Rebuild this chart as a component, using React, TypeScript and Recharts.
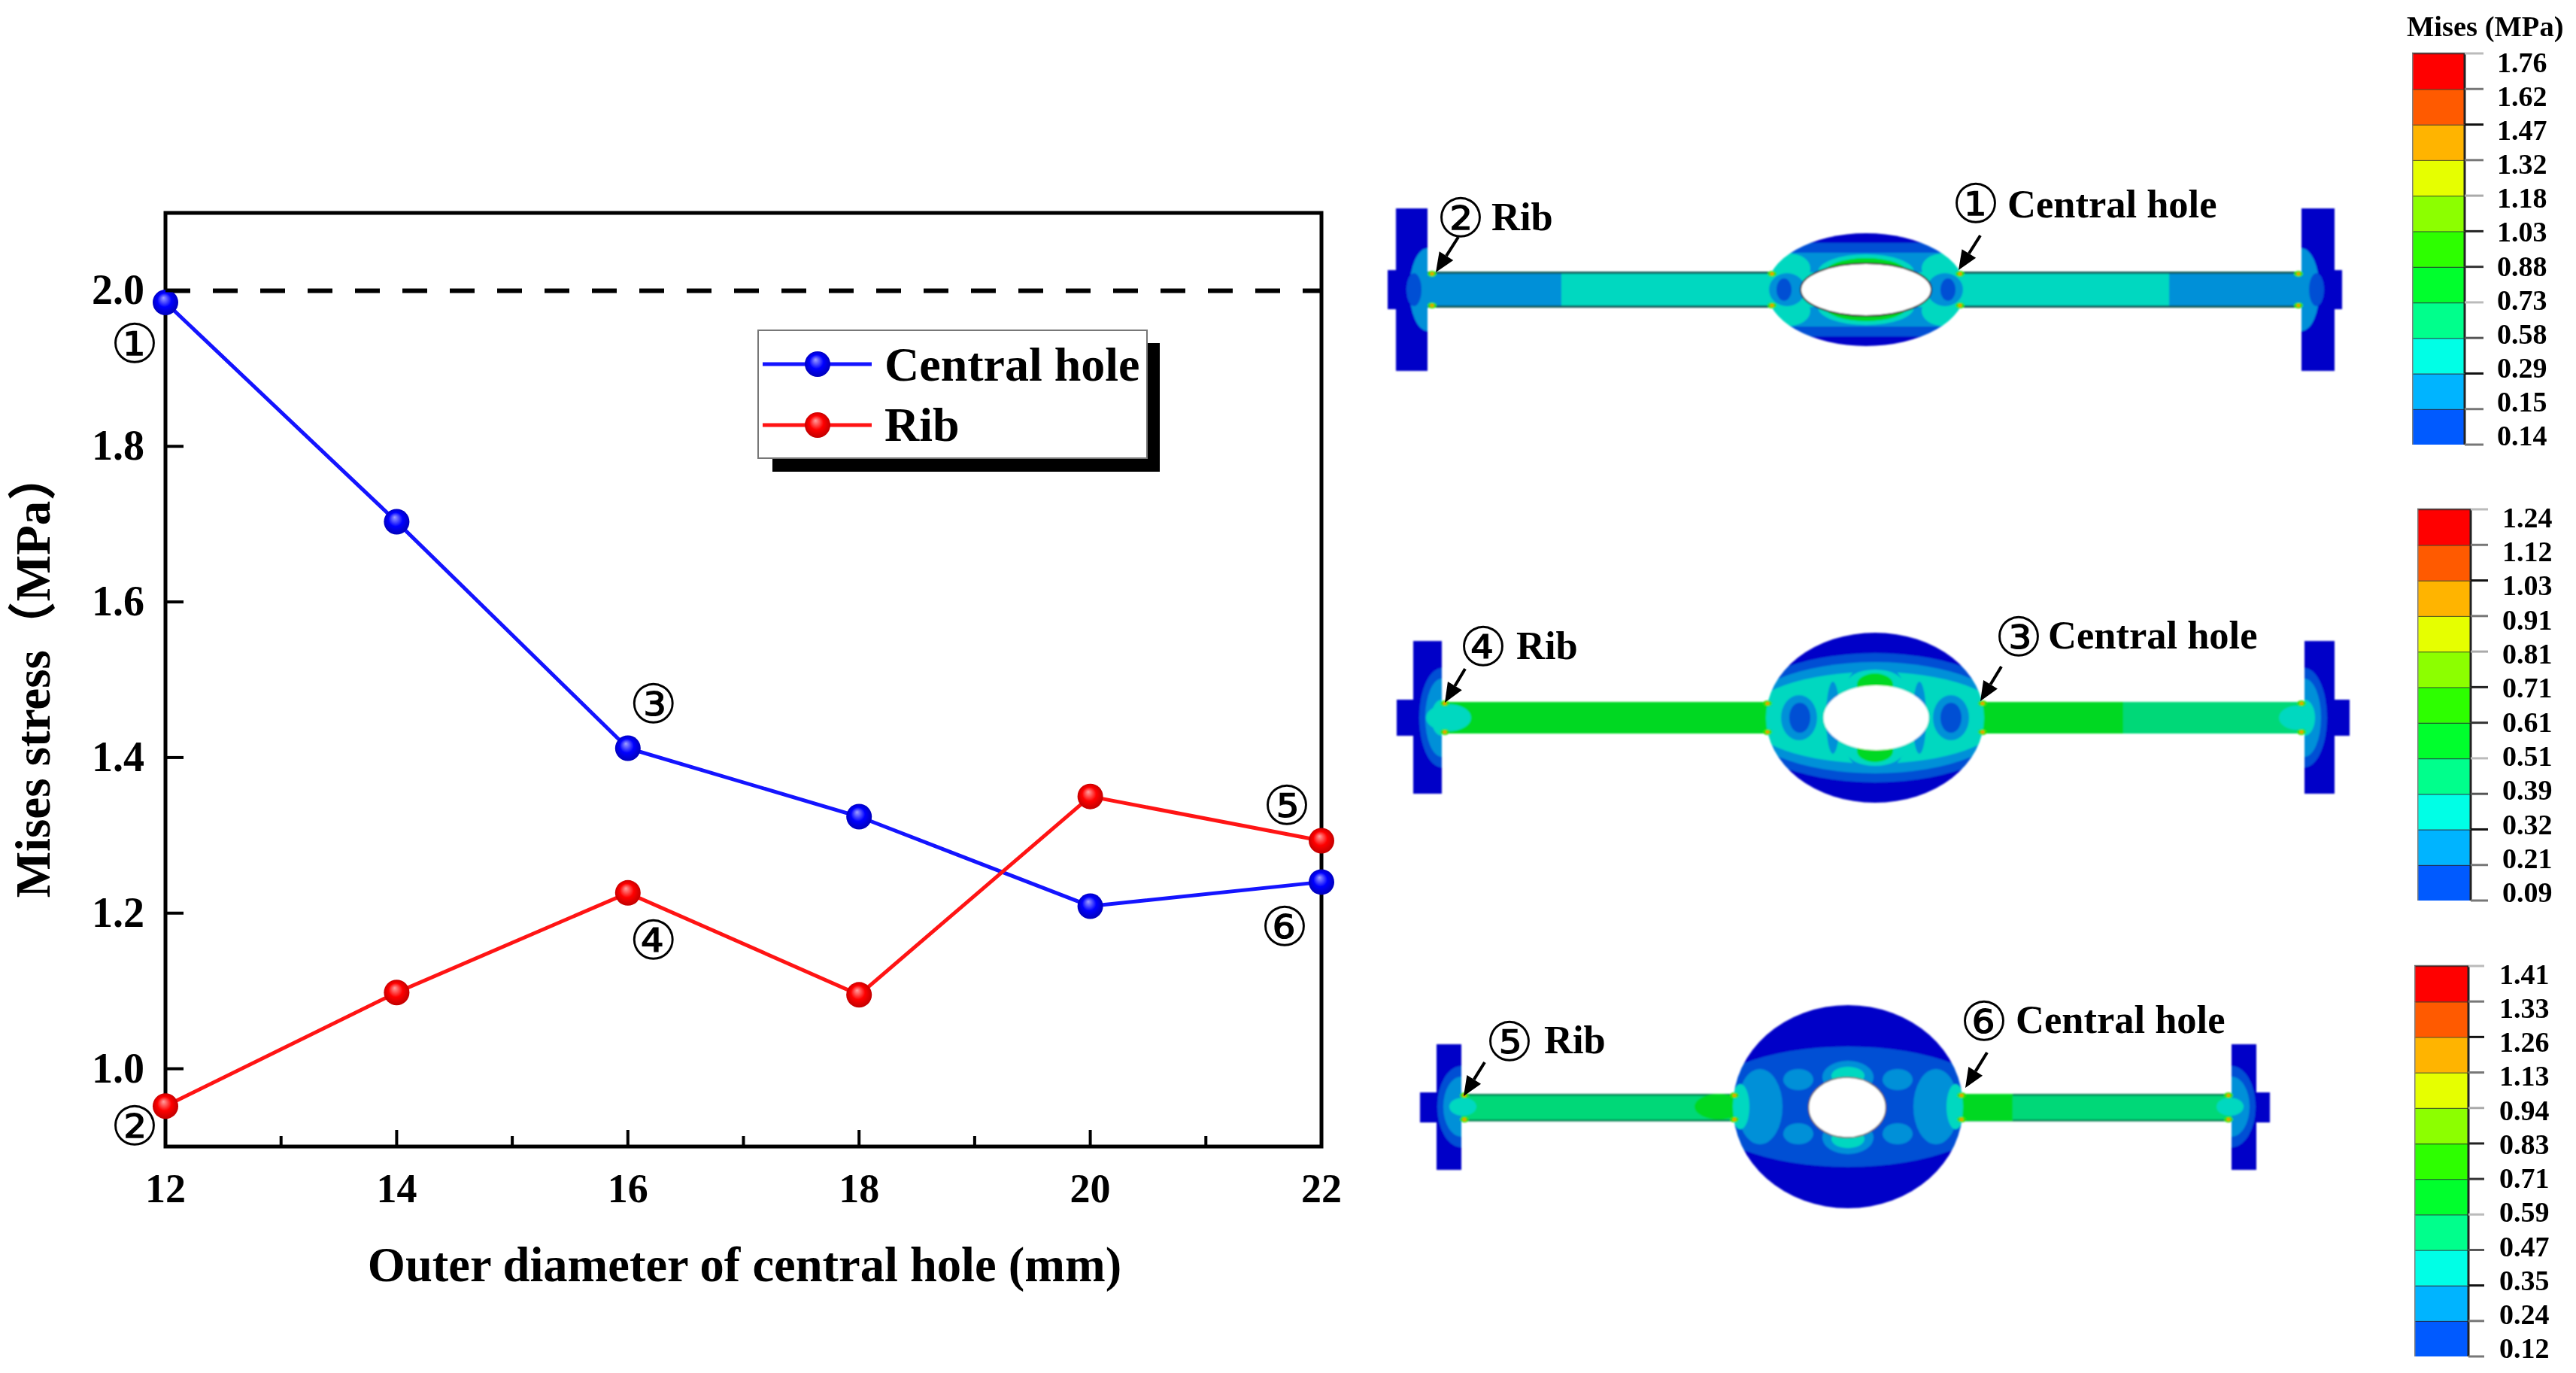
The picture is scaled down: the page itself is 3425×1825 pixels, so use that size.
import React from 'react';
import { LineChart, Line, XAxis, YAxis, ReferenceLine, ReferenceArea, Legend, BarChart, Bar } from 'recharts';

const SERIF = '"Liberation Serif", "Noto Sans CJK SC", serif';
const CJK = '"DejaVu Sans", "Noto Sans CJK SC", sans-serif';

const diameters = [12, 14, 16, 18, 20, 22];
const centralHole = [1.985, 1.703, 1.412, 1.324, 1.209, 1.24];
const rib = [0.952, 1.098, 1.226, 1.095, 1.35, 1.293];
const xTicks = [12, 13, 14, 15, 16, 17, 18, 19, 20, 21, 22];
const yTicks = [1.0, 1.2, 1.4, 1.6, 1.8, 2.0];
const holeMarks: Record<number, string> = { 0: '①', 2: '③', 5: '⑥' };
const ribMarks: Record<number, string> = { 0: '②', 2: '④', 5: '⑤' };
const limitStress = 2.0;

const bandColors = ['#005aff', '#00b4ff', '#00ffe6', '#00ff8c', '#00ff2d', '#2dff00', '#8cff00', '#e6ff00', '#ffb400', '#ff5a00', '#ff0000'];
const tickShades = ['#bbbbbb', '#777777', '#111111', '#777777', '#aaaaaa', '#222222', '#333333', '#bbbbbb', '#555555', '#111111', '#777777', '#777777'];
const scaleA = ['1.76', '1.62', '1.47', '1.32', '1.18', '1.03', '0.88', '0.73', '0.58', '0.29', '0.15', '0.14'];
const scaleB = ['1.24', '1.12', '1.03', '0.91', '0.81', '0.71', '0.61', '0.51', '0.39', '0.32', '0.21', '0.09'];
const scaleC = ['1.41', '1.33', '1.26', '1.13', '0.94', '0.83', '0.71', '0.59', '0.47', '0.35', '0.24', '0.12'];

const chartRows = diameters.map((d, i) => ({ d, hole: centralHole[i], rib: rib[i] }));
const bandRow = [{ name: 'scale', ...Object.fromEntries(bandColors.map((_, i) => ['b' + i, 1])) }];

const markOffsets: Record<string, [number, number]> = {
  '①': [-41, 55], '②': [-41, 27], '③': [34, -59], '④': [34, 63], '⑤': [-46, -47], '⑥': [-49, 60],
};

const circled = (marks: Record<number, string>) => (p: any) => {
  const m = marks[p.index];
  if (!m) return <g key={p.index} />;
  const [dx, dy] = markOffsets[m];
  return (
    <text key={p.index} x={p.x + dx} y={p.y + dy} fontFamily={CJK} fontSize={72} textAnchor="middle" dominantBaseline="central" fill="#000">{m}</text>
  );
};

const XTick = (p: any) => {
  const v = p.payload.value;
  const major = v % 2 === 0;
  return (
    <g>
      <line x1={p.x} x2={p.x} y1={1524} y2={1524 - (major ? 22 : 14)} stroke="#000" strokeWidth={4} />
      {major && <text x={p.x} y={1598} textAnchor="middle" fontFamily={SERIF} fontWeight="bold" fontSize={54} fill="#000">{v}</text>}
    </g>
  );
};

const YTick = (p: any) => (
  <g>
    <line x1={220} x2={244} y1={p.y} y2={p.y} stroke="#000" strokeWidth={4} />
    <text x={192} y={p.y + 18} textAnchor="end" fontFamily={SERIF} fontWeight="bold" fontSize={56} fill="#000">{p.payload.value.toFixed(1)}</text>
  </g>
);

const LegendBox = () => {
  const rows = [
    { name: 'Central hole', c: '#1414ff', g: 'ballBlue', y: 46, b: 68 },
    { name: 'Rib', c: '#ff1414', g: 'ballRed', y: 127, b: 148 },
  ];
  return (
    <svg width={540} height={195} style={{ display: 'block' }}>
      <rect x={20} y={18} width={515} height={171} fill="#000" />
      <rect x={1} y={1} width={517} height={170} fill="#fff" stroke="#777" strokeWidth={2} />
      {rows.map((r) => (
        <g key={r.name}>
          <line x1={7} x2={152} y1={r.y} y2={r.y} stroke={r.c} strokeWidth={5} />
          <circle cx={80} cy={r.y} r={17} fill={`url(#${r.g}Legend)`} />
          <text x={169} y={r.b} fontFamily={SERIF} fontWeight="bold" fontSize={64} fill="#000">{r.name}</text>
        </g>
      ))}
      <defs>
        <Ball id="ballBlueLegend" light="#a0a0ff" mid="#0000ff" dark="#0000b0" />
        <Ball id="ballRedLegend" light="#ffa0a0" mid="#ff0000" dark="#b80000" />
      </defs>
    </svg>
  );
};

function Ball({ id, light, mid, dark }: any) {
  return (
    <radialGradient id={id} cx="50%" cy="50%" r="55%" fx="42%" fy="32%">
      <stop offset="0%" stopColor={light} />
      <stop offset="50%" stopColor={mid} />
      <stop offset="100%" stopColor={dark} />
    </radialGradient>
  );
}

function ColorBar({ labels, left, top, cellW, height, tickLen, labelGap, squeeze }: any) {
  const pad = 30;
  const axisW = 140;
  const mid = pad + height / 2;
  const tick = (p: any) => {
    const i = labels.length - 1 - p.payload.value;
    const ly = mid + (p.y - mid) * squeeze;
    return (
      <g>
        <line x1={p.x} x2={p.x + tickLen} y1={p.y} y2={p.y} stroke={tickShades[i]} strokeWidth={3} />
        <text x={p.x + labelGap} y={ly} dominantBaseline="central" fontFamily={SERIF} fontWeight="bold" fontSize={38} fill="#000">{labels[i]}</text>
      </g>
    );
  };
  const cell = (p: any) => (
    <g>
      <rect x={p.x} y={p.y} width={p.width} height={p.height} fill={p.fill} />
      <line x1={p.x} x2={p.x + p.width} y1={p.y} y2={p.y} stroke="#222" strokeOpacity={0.7} strokeWidth={2.5} />
      <line x1={p.x} x2={p.x} y1={p.y} y2={p.y + p.height} stroke="#808080" strokeWidth={3} />
      <line x1={p.x + p.width} x2={p.x + p.width} y1={p.y} y2={p.y + p.height} stroke="#222" strokeWidth={3} />
    </g>
  );
  return (
    <div style={{ position: 'absolute', left, top: top - pad }}>
      <BarChart width={cellW + axisW} height={height + 2 * pad} data={bandRow} margin={{ top: pad, bottom: pad, left: 0, right: 0 }} barCategoryGap={0}>
        <XAxis dataKey="name" type="category" hide />
        <YAxis orientation="right" type="number" domain={[0, 11]} ticks={[0, 1, 2, 3, 4, 5, 6, 7, 8, 9, 10, 11]} interval={0} width={axisW} axisLine={false} tickLine={false} tickSize={0} tickMargin={0} tick={tick} />
        {bandColors.map((c, i) => (
          <Bar key={c} dataKey={'b' + i} stackId="a" fill={c} isAnimationActive={false} shape={cell} />
        ))}
      </BarChart>
    </div>
  );
}

const DARK = '#0000c8';
const MID = '#0050d4';
const BLUE = '#0090d8';
const TEAL = '#00d8c0';
const MINT = '#00d878';
const GREEN = '#00d820';

const E = ({ x, y, a, b, f }: any) => <ellipse cx={x} cy={y} rx={a} ry={b} fill={f} />;

function Arrow({ x1, y1, x2, y2 }: any) {
  const L = Math.hypot(x2 - x1, y2 - y1);
  const ux = (x2 - x1) / L, uy = (y2 - y1) / L;
  const bx = x2 - ux * 26, by = y2 - uy * 26;
  return (
    <g>
      <line x1={x1} y1={y1} x2={bx} y2={by} stroke="#000" strokeWidth={4} />
      <polygon points={`${x2},${y2} ${bx - uy * 11},${by + ux * 11} ${bx + uy * 11},${by - ux * 11}`} fill="#000" />
    </g>
  );
}

function Note({ cx, cy, mark, x, base, text }: any) {
  return (
    <g>
      <text x={cx} y={cy} fontFamily={CJK} fontSize={72} textAnchor="middle" dominantBaseline="central" fill="#000">{mark}</text>
      <text x={x} y={base} fontFamily={SERIF} fontWeight="bold" fontSize={52.5} fill="#000">{text}</text>
    </g>
  );
}

function Hot({ pts }: any) {
  return (
    <g>
      {pts.map(([x, y]: number[], i: number) => (
        <g key={i}>
          <ellipse cx={x} cy={y} rx={6} ry={4} fill="#30e000" />
          <ellipse cx={x} cy={y} rx={2.5} ry={2} fill="#ff9000" />
        </g>
      ))}
    </g>
  );
}

function Fem() {
  return (
    <svg width={3425} height={1825} style={{ position: 'absolute', left: 0, top: 0 }}>
      <defs>
        <filter id="soft" x="-5%" y="-5%" width="110%" height="110%"><feGaussianBlur stdDeviation="1.3" /></filter>
        <clipPath id="o1"><ellipse cx={2481} cy={385} rx={132} ry={75} /></clipPath>
        <clipPath id="o2"><ellipse cx={2493} cy={954} rx={145} ry={113} /></clipPath>
        <clipPath id="o3"><ellipse cx={2457} cy={1471} rx={153} ry={135} /></clipPath>
        <clipPath id="l1"><rect x={1856} y={277} width={42} height={216} /><rect x={1845} y={359} width={53} height={52} /></clipPath>
        <clipPath id="r1"><rect x={3060} y={277} width={44} height={216} /><rect x={3060} y={359} width={54} height={52} /></clipPath>
        <clipPath id="l2"><rect x={1879} y={852} width={38} height={203} /><rect x={1857} y={930} width={60} height={48} /></clipPath>
        <clipPath id="r2"><rect x={3064} y={852} width={40} height={203} /><rect x={3064} y={930} width={60} height={48} /></clipPath>
        <clipPath id="l3"><rect x={1910} y={1388} width={33} height={167} /><rect x={1888} y={1452} width={55} height={40} /></clipPath>
        <clipPath id="r3"><rect x={2967} y={1388} width={33} height={167} /><rect x={2967} y={1452} width={51} height={40} /></clipPath>
      </defs>

      <g filter="url(#soft)">
        {/* upper contour plot */}
        <g clipPath="url(#l1)">
          <rect x={1840} y={270} width={70} height={230} fill={DARK} />
          <E x={1898} y={385} a={24} b={55} f={BLUE} /><E x={1880} y={385} a={10} b={22} f={MID} />
        </g>
        <g clipPath="url(#r1)">
          <rect x={3050} y={270} width={70} height={230} fill={DARK} />
          <E x={3060} y={385} a={24} b={55} f={BLUE} /><E x={3080} y={385} a={10} b={22} f={MID} />
        </g>
        <rect x={1898} y={362} width={178} height={46} fill={BLUE} />
        <rect x={2076} y={362} width={808} height={46} fill={TEAL} />
        <rect x={2884} y={362} width={176} height={46} fill={BLUE} />
        <rect x={1898} y={361} width={1162} height={3} fill="#0a5a58" />
        <rect x={1898} y={406} width={1162} height={3} fill="#0a5a58" />
        <g clipPath="url(#o1)">
          <rect x={2340} y={300} width={290} height={170} fill={BLUE} />
          <rect x={2340} y={300} width={290} height={23} fill={DARK} />
          <rect x={2340} y={323} width={290} height={13} fill={MID} />
          <rect x={2340} y={447} width={290} height={23} fill={DARK} />
          <rect x={2340} y={434} width={290} height={13} fill={MID} />
          {[-1, 1].map((s) => [-1, 1].map((t) => <E key={`${s}${t}`} x={2481 + s * 102} y={385 + t * 28} a={28} b={20} f={TEAL} />))}
          <rect x={2340} y={362} width={290} height={46} fill={TEAL} />
          <E x={2481} y={362} a={64} b={24} f={TEAL} /><E x={2481} y={408} a={64} b={24} f={TEAL} />
          <E x={2481} y={362} a={54} b={19} f={GREEN} /><E x={2481} y={408} a={54} b={19} f={GREEN} />
          <E x={2376} y={385} a={24} b={22} f={BLUE} /><E x={2586} y={385} a={24} b={22} f={BLUE} />
          <E x={2372} y={385} a={10} b={15} f={MID} /><E x={2590} y={385} a={10} b={15} f={MID} />
        </g>
        <ellipse cx={2481} cy={385} rx={87} ry={35} fill="#fff" stroke="#222" strokeWidth={2} />
        <Hot pts={[[1904, 364], [1904, 406], [2356, 364], [2356, 406], [2606, 364], [2606, 406], [3056, 364], [3056, 406]]} />

        {/* middle contour plot */}
        <g clipPath="url(#l2)">
          <rect x={1850} y={845} width={80} height={215} fill={DARK} />
          <E x={1917} y={954} a={30} b={66} f={MID} /><E x={1917} y={954} a={22} b={52} f={BLUE} /><E x={1917} y={954} a={14} b={24} f={TEAL} />
        </g>
        <g clipPath="url(#r2)">
          <rect x={3055} y={845} width={80} height={215} fill={DARK} />
          <E x={3064} y={954} a={30} b={66} f={MID} /><E x={3064} y={954} a={22} b={52} f={BLUE} /><E x={3064} y={954} a={14} b={24} f={TEAL} />
        </g>
        <rect x={1917} y={933} width={906} height={42} fill={GREEN} />
        <rect x={2823} y={933} width={241} height={42} fill={MINT} />
        <E x={1926} y={954} a={30} b={18} f={TEAL} />
        <E x={3054} y={954} a={24} b={16} f={TEAL} />
        <g clipPath="url(#o2)">
          <rect x={2340} y={830} width={310} height={250} fill={DARK} />
          <E x={2493} y={954} a={190} b={86} f={MID} />
          <E x={2493} y={954} a={180} b={74} f={BLUE} />
          <E x={2493} y={954} a={170} b={61} f={TEAL} />
          <E x={2493} y={908} a={36} b={24} f={BLUE} />
          <E x={2493} y={1000} a={36} b={24} f={BLUE} />
          <E x={2493} y={910} a={38} b={20} f={TEAL} />
          <E x={2493} y={998} a={38} b={20} f={TEAL} />
          <E x={2493} y={910} a={24} b={15} f={GREEN} />
          <E x={2493} y={998} a={24} b={15} f={GREEN} />
          <E x={2392} y={954} a={30} b={38} f={TEAL} /><E x={2594} y={954} a={30} b={38} f={TEAL} />
          <E x={2392} y={954} a={24} b={30} f={BLUE} /><E x={2594} y={954} a={24} b={30} f={BLUE} />
          <E x={2393} y={954} a={14} b={20} f={MID} /><E x={2594} y={954} a={14} b={20} f={MID} />
          <E x={2437} y={954} a={9} b={48} f={BLUE} /><E x={2552} y={954} a={9} b={48} f={BLUE} />
        </g>
        <ellipse cx={2494.5} cy={954} rx={70} ry={43} fill="#fff" />
        <Hot pts={[[1921, 935], [1921, 973], [2350, 935], [2350, 973], [2636, 935], [2636, 973], [3060, 935], [3060, 973]]} />

        {/* lower contour plot */}
        <g clipPath="url(#l3)">
          <rect x={1880} y={1380} width={70} height={180} fill={DARK} />
          <E x={1943} y={1471} a={32} b={54} f={MID} /><E x={1943} y={1471} a={24} b={40} f={BLUE} />
        </g>
        <g clipPath="url(#r3)">
          <rect x={2960} y={1380} width={70} height={180} fill={DARK} />
          <E x={2967} y={1471} a={32} b={54} f={MID} /><E x={2967} y={1471} a={24} b={40} f={BLUE} />
        </g>
        <rect x={1943} y={1454} width={1024} height={36} fill={MINT} />
        <rect x={1943} y={1454} width={1024} height={2.5} fill="#008050" />
        <rect x={1943} y={1488} width={1024} height={2.5} fill="#008050" />
        <E x={1945} y={1471} a={18} b={12} f={TEAL} /><E x={2965} y={1471} a={18} b={12} f={TEAL} />
        <E x={2285} y={1471} a={32} b={17} f={GREEN} />
        <rect x={2607} y={1454} width={69} height={36} fill={GREEN} />
        <g clipPath="url(#o3)">
          <rect x={2290} y={1330} width={340} height={285} fill={DARK} />
          <E x={2457} y={1471} a={200} b={80} f={MID} />
          <E x={2340} y={1471} a={30} b={50} f={BLUE} /><E x={2574} y={1471} a={30} b={50} f={BLUE} />
          <E x={2314} y={1471} a={12} b={30} f={TEAL} /><E x={2600} y={1471} a={12} b={30} f={TEAL} />
          {[-1, 1].map((s) => [-1, 1].map((t) => <E key={`${s}${t}`} x={2457 + s * 66} y={1471 + t * 36} a={20} b={14} f={BLUE} />))}
          <E x={2457} y={1432} a={34} b={22} f={BLUE} /><E x={2457} y={1512} a={34} b={22} f={BLUE} />
          <E x={2457} y={1430} a={22} b={12} f={TEAL} /><E x={2457} y={1514} a={22} b={12} f={TEAL} />
        </g>
        <ellipse cx={2456} cy={1472} rx={51.5} ry={40} fill="#fff" stroke="#555" strokeWidth={1.5} />
        <Hot pts={[[1947, 1456], [1947, 1488], [2306, 1456], [2306, 1488], [2608, 1456], [2608, 1488], [2963, 1456], [2963, 1488]]} />
      </g>

      <Arrow x1={1939} y1={315} x2={1909} y2={362} />
      <Arrow x1={2633} y1={313} x2={2604} y2={359} />
      <Arrow x1={1948} y1={889} x2={1921} y2={934} />
      <Arrow x1={2661} y1={886} x2={2633} y2={932} />
      <Arrow x1={1974} y1={1412} x2={1946} y2={1457} />
      <Arrow x1={2642} y1={1399} x2={2613} y2={1446} />

      <Note cx={1942} cy={290} mark="②" x={1983} base={306} text="Rib" />
      <Note cx={2627} cy={271} mark="①" x={2669} base={289} text="Central hole" />
      <Note cx={1972} cy={860} mark="④" x={2016} base={876} text="Rib" />
      <Note cx={2684} cy={847} mark="③" x={2723} base={862} text="Central hole" />
      <Note cx={2007} cy={1385} mark="⑤" x={2053} base={1400} text="Rib" />
      <Note cx={2638} cy={1358} mark="⑥" x={2680} base={1373} text="Central hole" />

      <text x={3200} y={48} fontFamily={SERIF} fontWeight="bold" fontSize={38.5} fill="#000">Mises (MPa)</text>
    </svg>
  );
}

export default function App() {
  return (
    <div style={{ position: 'absolute', left: 0, top: 0, width: 3425, height: 1825, background: '#fff', overflow: 'hidden' }}>
      <div style={{ position: 'absolute', left: 0, top: 0 }}>
        <LineChart width={1900} height={1825} data={chartRows} margin={{ top: 283, left: 120, right: 143, bottom: 201 }}>
          <defs>
            <Ball id="ballBlue" light="#a0a0ff" mid="#0000ff" dark="#0000b0" />
            <Ball id="ballRed" light="#ffa0a0" mid="#ff0000" dark="#b80000" />
          </defs>
          <XAxis dataKey="d" type="number" domain={[12, 22]} ticks={xTicks} interval={0} height={100} axisLine={false} tickLine={false} tickSize={0} tickMargin={0} tick={XTick} />
          <YAxis type="number" domain={[0.9, 2.1]} ticks={yTicks} interval={0} width={100} axisLine={false} tickLine={false} tickSize={0} tickMargin={0} tick={YTick} />
          <ReferenceArea x1={12} x2={22} y1={0.9} y2={2.1} fill="none" stroke="#000" strokeWidth={5} />
          <ReferenceLine y={limitStress} stroke="#000" strokeWidth={6} strokeDasharray="33 30" />
          <Legend layout="vertical" align="center" verticalAlign="middle" wrapperStyle={{ left: 1007, top: 438, width: 540, height: 195, margin: 0 }} content={() => <LegendBox />} />
          <Line dataKey="hole" name="Central hole" stroke="#1414ff" strokeWidth={5} isAnimationActive={false} dot={{ r: 17, fill: 'url(#ballBlue)', stroke: 'none' }} label={circled(holeMarks)} />
          <Line dataKey="rib" name="Rib" stroke="#ff1414" strokeWidth={5} isAnimationActive={false} dot={{ r: 17, fill: 'url(#ballRed)', stroke: 'none' }} label={circled(ribMarks)} />
          <text x={990} y={1703} textAnchor="middle" fontFamily={SERIF} fontWeight="bold" fontSize={64.5} fill="#000">Outer diameter of central hole (mm)</text>
          <text transform="translate(66 897) rotate(-90)" textAnchor="middle" fontFamily={SERIF} fontWeight="bold" fontSize={65} fill="#000">Mises stress（MPa）</text>
        </LineChart>
      </div>
      <Fem />
      <ColorBar labels={scaleA} left={3207} top={71} cellW={70} height={520} tickLen={25} labelGap={43} squeeze={0.954} />
      <ColorBar labels={scaleB} left={3214} top={677} cellW={71} height={520} tickLen={23} labelGap={42} squeeze={0.958} />
      <ColorBar labels={scaleC} left={3210} top={1284} cellW={72} height={519} tickLen={21} labelGap={41} squeeze={0.958} />
    </div>
  );
}
